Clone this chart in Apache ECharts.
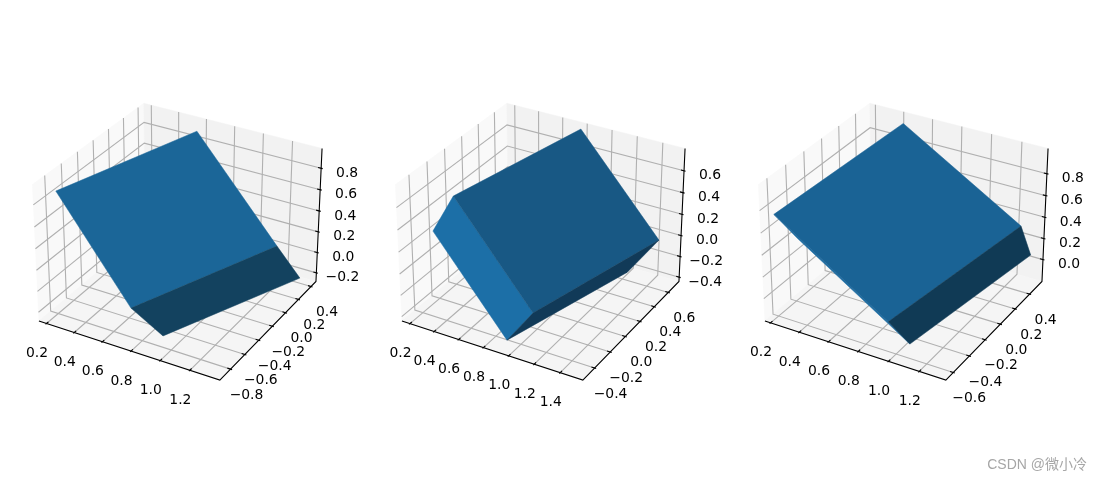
<!DOCTYPE html>
<html><head><meta charset="utf-8">
<style>html,body{margin:0;padding:0;background:#fff}#c{width:1103px;height:480px}</style>
<script src="https://cdn.jsdelivr.net/npm/echarts@6/dist/echarts.min.js"></script>
</head><body><div id="c"></div>
<script>
// Data: axis ranges, ticks and solid corners in data units
const xLim1=[0.1447,1.399], yLim1=[-0.946,0.48], zLim1=[-0.285,0.9816];
const xTicks1=[0.2,0.4,0.6,0.8,1.0,1.2], yTicks1=[-0.8,-0.6,-0.4,-0.2,0.0,0.2,0.4], zTicks1=[-0.2,0.0,0.2,0.4,0.6,0.8];
const verts1=[[0.171,-0.721,0.808],[0.612,0.319,0.955],[1.281,0.104,0.242],[0.788,-0.916,0.095],[0.896,-0.708,-0.259],[1.373,0.272,-0.132]];
const faces1=[[0,1,2,3],[3,2,5,4]];
const colors1=['#1b6698','#13425f'];

const xLim2=[0.1328,1.5716], yLim2=[-0.547,0.757], zLim2=[-0.4415,0.802];
const xTicks2=[0.2,0.4,0.6,0.8,1.0,1.2,1.4], yTicks2=[-0.4,-0.2,0.0,0.2,0.4,0.6], zTicks2=[-0.4,-0.2,0.0,0.2,0.4,0.6];
const verts2=[[0.413,-0.302,0.642],[0.781,0.704,0.776],[1.542,0.486,0.120],[1.174,-0.52,-0.002],[0.163,-0.203,0.183],[0.909,-0.429,-0.416],[1.284,0.520,-0.294]];
const faces2=[[4,0,3,5],[0,1,2,3],[5,3,2,6]];
const colors2=['#1c6fa7','#185884','#113a58'];

const xLim3=[0.1603,1.3698], yLim3=[-0.6894,0.5757], zLim3=[-0.2105,1.0275];
const xTicks3=[0.2,0.4,0.6,0.8,1.0,1.2], yTicks3=[-0.6,-0.4,-0.2,0.0,0.2,0.4], zTicks3=[0.0,0.2,0.4,0.6,0.8];
const verts3=[[0.186,-0.583,0.709],[0.458,0.465,1.002],[1.305,0.380,0.419],[0.985,-0.663,0.126],[1.031,-0.492,-0.185],[1.345,0.447,0.120],[0.232,-0.412,0.398]];
const faces3=[[0,3,4,6],[0,1,2,3],[3,2,5,4]];
const colors3=['#1d6ca2','#1a6395','#103a55'];

const watermark='CSDN @微小冷';

// Layout and view settings (matplotlib's default 3D camera: elev 30, azim -60, dist 10)
const centres=[180,543,906], centreY=235, half=161, scale=1741;
const BOX=[1.1905,1.1905,0.8929];
const U=[0.8660254,0.5,0], V=[-0.25,0.4330127,0.8660254], W=[0.4330127,-0.75,0.5];
const dot=(a,b)=>a[0]*b[0]+a[1]*b[1]+a[2]*b[2];
function projector(lims){
  return function(pt){
    const p=pt.map((v,i)=>((v-lims[i][0])/(lims[i][1]-lims[i][0])-0.5)*BOX[i]);
    const d=10-dot(p,W);
    return [dot(p,U)/d,dot(p,V)/d];
  };
}
const TEXT={fontSize:13.9,fontFamily:'"DejaVu Sans"',fill:'#000'};
const fmt=v=>(v<0?'\u2212':'')+Math.abs(v).toFixed(1);

function panelItems(lims,ticks,verts,faces,colors){
  const [xl,yl,zl]=lims, [xt,yt,zt]=ticks, P=projector(lims);
  const [x0,x1]=xl,[y0,y1]=yl,[z0,z1]=zl;
  const tx=(y1-y0)/12, ty=(x1-x0)/12, out=0.1, inn=0.2;
  const items=[];
  const poly=(pts,fill)=>items.push({k:'poly',pts:pts.map(P),fill});
  const line=(pts,stroke)=>items.push({k:'line',pts:pts.map(P),stroke});
  const label=(pt,t,off)=>items.push({k:'text',pt:P(pt),t,off});
  // panes
  poly([[x0,y0,z0],[x0,y1,z0],[x0,y1,z1],[x0,y0,z1]],'#f9f9f9');
  poly([[x0,y1,z0],[x1,y1,z0],[x1,y1,z1],[x0,y1,z1]],'#f2f2f2');
  poly([[x0,y0,z0],[x1,y0,z0],[x1,y1,z0],[x0,y1,z0]],'#f5f5f5');
  // gridlines
  const G='#b0b0b0';
  xt.forEach(x=>line([[x,y0,z0],[x,y1,z0],[x,y1,z1]],G));
  yt.forEach(y=>line([[x0,y,z1],[x0,y,z0],[x1,y,z0]],G));
  zt.forEach(z=>line([[x0,y0,z],[x0,y1,z],[x1,y1,z]],G));
  // axis lines
  line([[x0,y0,z0],[x1,y0,z0],[x1,y1,z0],[x1,y1,z1]],'#000');
  // ticks and labels
  xt.forEach(x=>{line([[x,y0-out*tx,z0],[x,y0+inn*tx,z0]],'#000');label([x,y0,z0],fmt(x),[-9.5,30]);});
  yt.forEach(y=>{line([[x1+out*ty,y,z0],[x1-inn*ty,y,z0]],'#000');label([x1,y,z0],fmt(y),[16,26]);});
  zt.forEach(z=>{line([[x1+out*ty,y1,z],[x1-inn*ty,y1,z]],'#000');label([x1,y1,z],fmt(z),[26,5]);});
  // solid
  faces.forEach((f,i)=>poly(f.map(j=>verts[j]),colors[i]));
  return items;
}

const panels=[
  panelItems([xLim1,yLim1,zLim1],[xTicks1,yTicks1,zTicks1],verts1,faces1,colors1),
  panelItems([xLim2,yLim2,zLim2],[xTicks2,yTicks2,zTicks2],verts2,faces2,colors2),
  panelItems([xLim3,yLim3,zLim3],[xTicks3,yTicks3,zTicks3],verts3,faces3,colors3)
];

function render(params,api){
  const it=panels[params.seriesIndex][params.dataIndex];
  if(it.k==='poly') return {type:'polygon',shape:{points:it.pts.map(p=>api.coord(p))},style:{fill:it.fill,stroke:it.fill,lineWidth:0.5}};
  if(it.k==='line') return {type:'polyline',shape:{points:it.pts.map(p=>api.coord(p))},style:{fill:null,stroke:it.stroke,lineWidth:1.1}};
  const c=api.coord(it.pt);
  return {type:'text',x:c[0]+it.off[0],y:c[1]+it.off[1],style:Object.assign({text:it.t,align:'center',verticalAlign:'middle'},TEXT)};
}

const range=half/scale;
const option={
  animation:false,
  backgroundColor:'#fff',
  title:{text:watermark,right:11,top:453,textStyle:{color:'#a6a6a6',fontSize:14,fontWeight:'normal',fontFamily:'"Liberation Sans","Noto Sans CJK SC"'}},
  grid:centres.map(cx=>({left:cx-half,top:centreY-half,width:2*half,height:2*half})),
  xAxis:centres.map((c,i)=>({type:'value',gridIndex:i,min:-range,max:range,show:false})),
  yAxis:centres.map((c,i)=>({type:'value',gridIndex:i,min:-range,max:range,show:false})),
  series:panels.map((items,i)=>({type:'custom',xAxisIndex:i,yAxisIndex:i,coordinateSystem:'cartesian2d',silent:true,clip:false,
    data:items.map((it,j)=>[j]),encode:{x:0},renderItem:render}))
};
echarts.init(document.getElementById('c'),null,{renderer:'canvas'}).setOption(option);
</script></body></html>
